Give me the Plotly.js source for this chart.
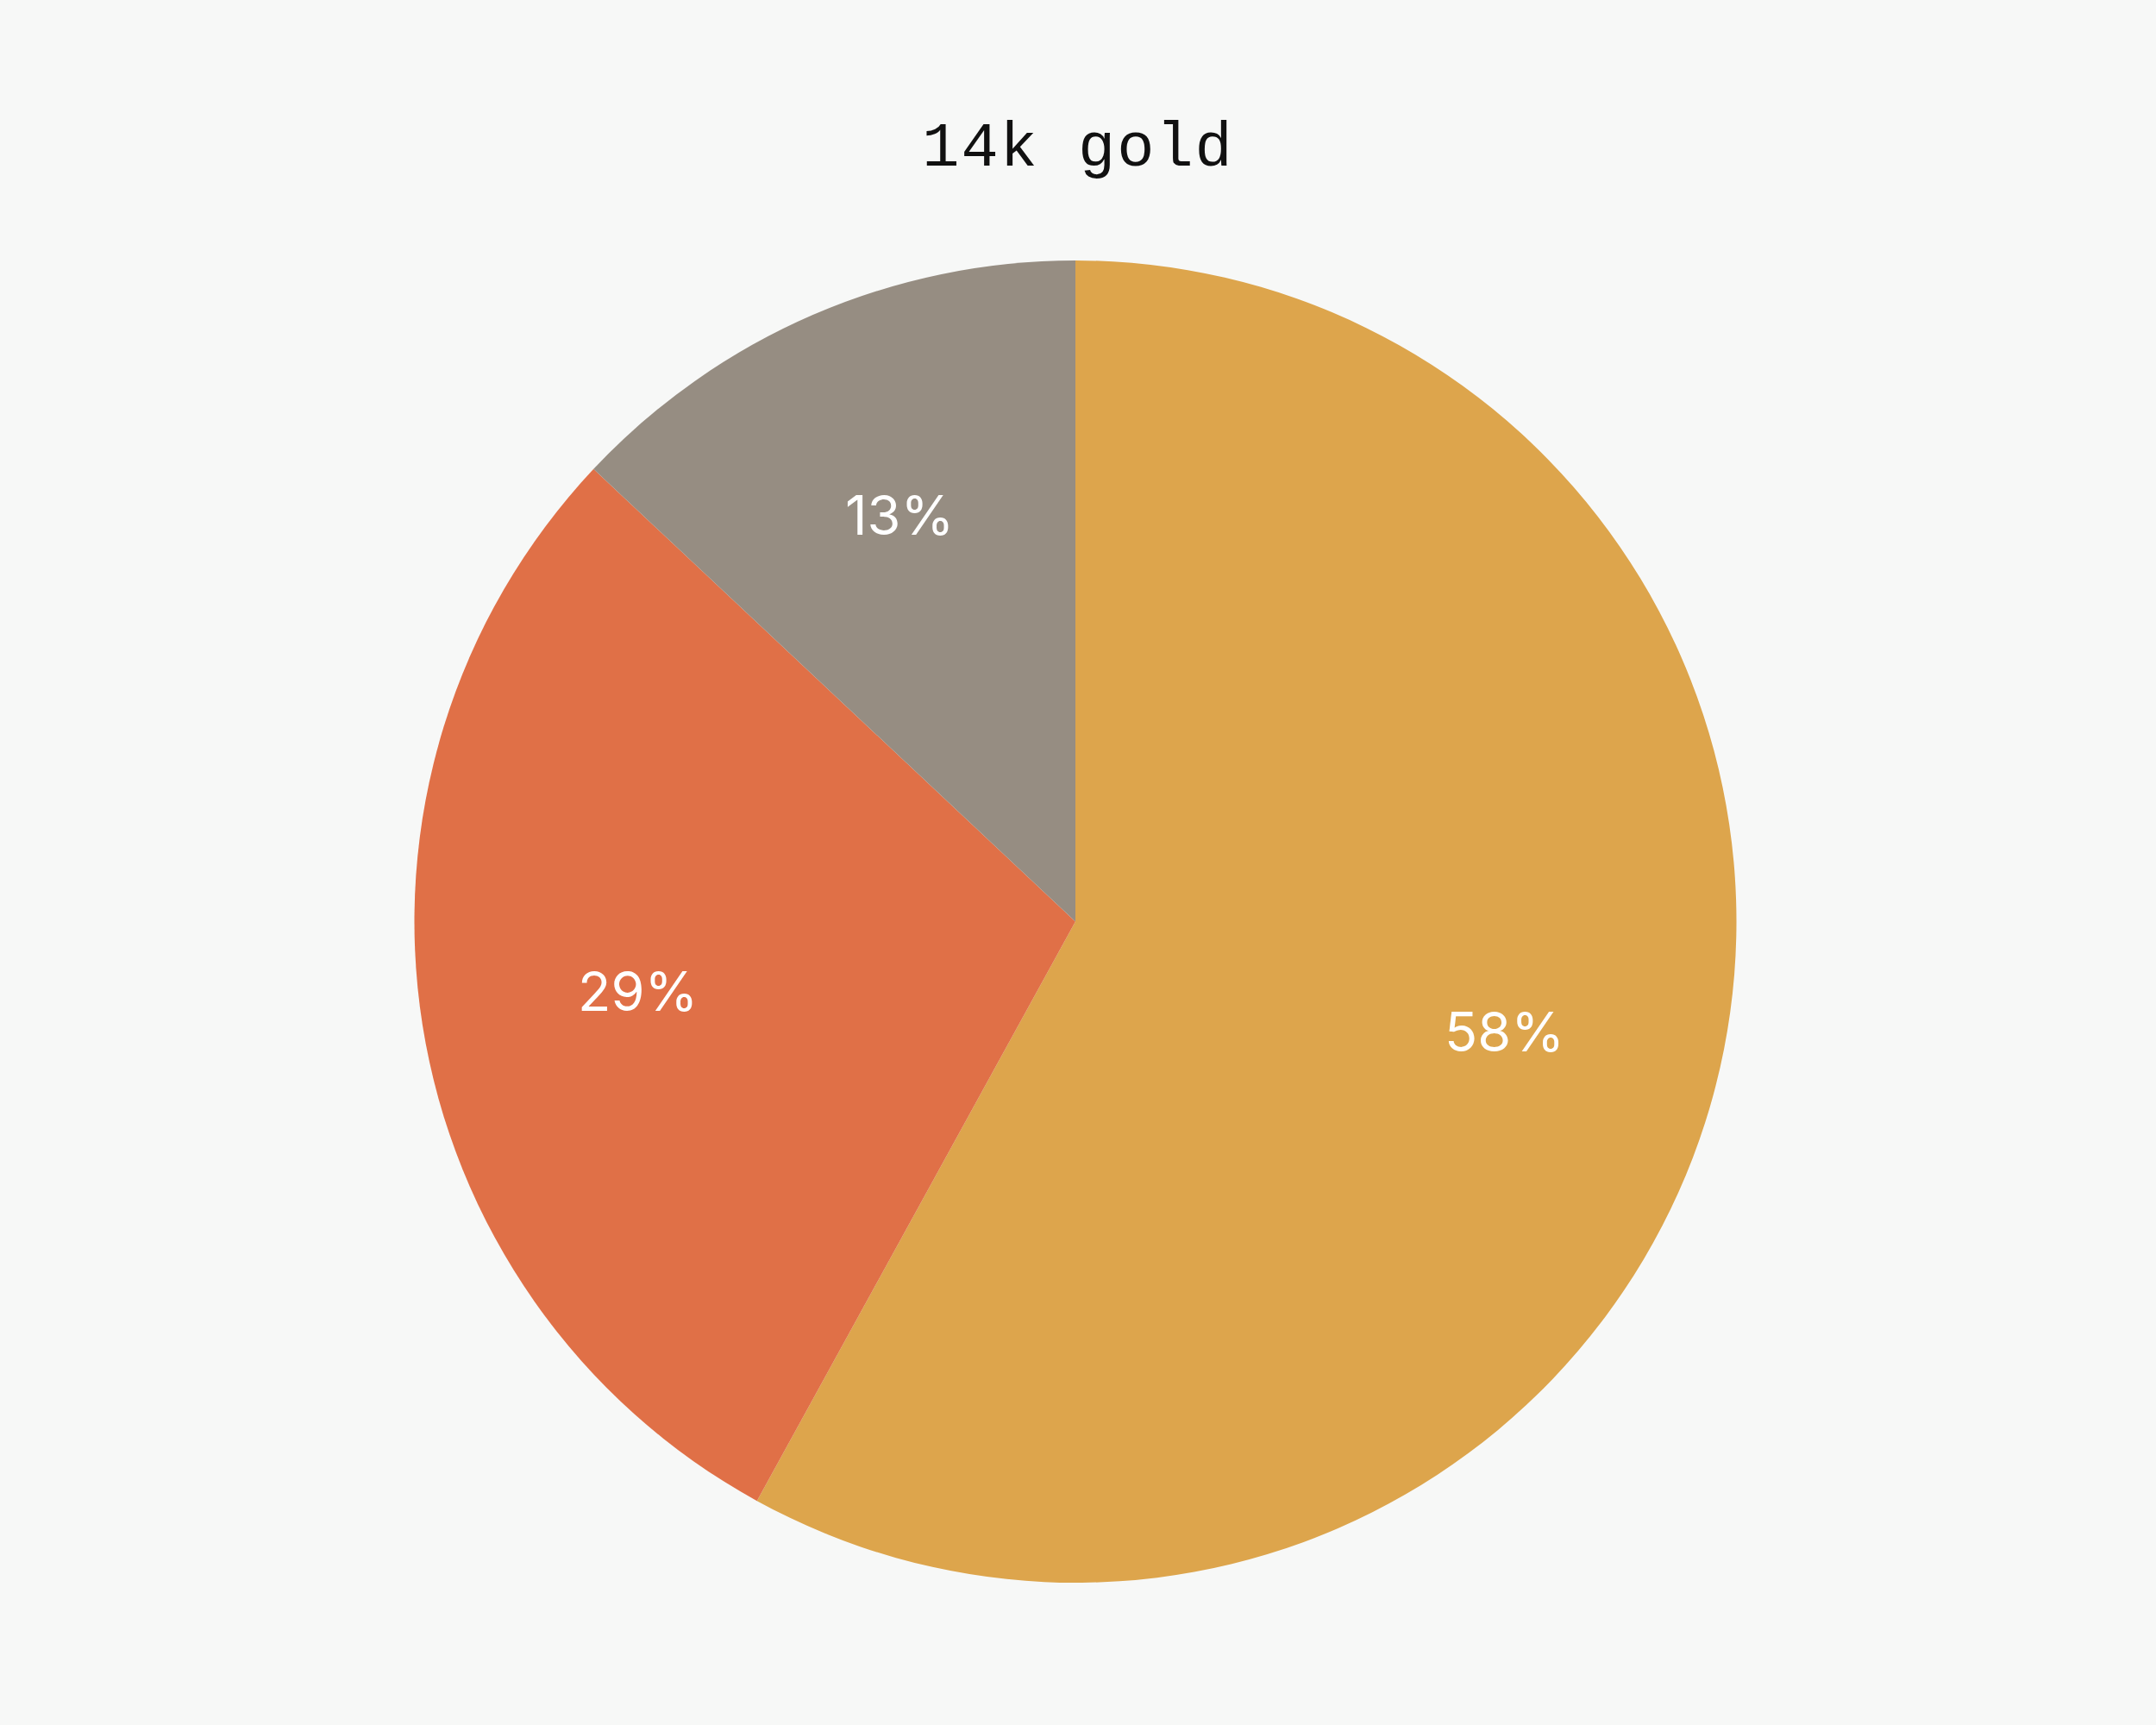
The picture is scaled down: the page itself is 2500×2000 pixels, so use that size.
<!DOCTYPE html>
<html>
<head>
<meta charset="utf-8">
<script src="https://cdn.plot.ly/plotly-3.0.1.min.js"></script>
<style>
  body { margin: 0; background: #f7f8f7; }
  #chart { width: 2500px; height: 2000px; }
  .gtitle { letter-spacing: 2px; }
</style>
</head>
<body>
<div id="chart"></div>
<script>
const metals = ["Gold", "Copper", "Silver"];
const shares = [58, 29, 13];
const colors = ["#dda54c", "#e07047", "#968d82"];

const W = 2500, H = 2000;
const margin = { l: 0, r: 6, t: 302, b: 165 };
const plotW = W - margin.l - margin.r;
const plotH = H - margin.t - margin.b;
const R = Math.min(plotW, plotH) / 2;
const labelDist = 0.67; // percent labels sit on a fixed ring, like the original

// percent labels placed at each slice's middle angle (clockwise from 12 o'clock)
const total = shares.reduce((a, b) => a + b, 0);
let cum = 0;
const labels = shares.map(v => {
  const mid = (cum + v / 2) / total * 2 * Math.PI;
  cum += v;
  return {
    x: 0.5 + labelDist * R * Math.sin(mid) / plotW,
    y: 0.5 + labelDist * R * Math.cos(mid) / plotH,
    xref: 'paper', yref: 'paper',
    text: Math.round(v / total * 100) + '%',
    showarrow: false,
    xanchor: 'center', yanchor: 'middle',
    font: { family: 'Inter, Roboto, Liberation Sans, sans-serif', size: 63, color: '#ffffff' }
  };
});

Plotly.newPlot('chart', [{
  type: 'pie',
  labels: metals,
  values: shares,
  sort: false,
  direction: 'clockwise',
  rotation: 0,
  marker: { colors: colors, line: { width: 0 } },
  textinfo: 'none',
  hoverinfo: 'label+percent'
}], {
  width: W,
  height: H,
  paper_bgcolor: '#f7f8f7',
  plot_bgcolor: '#f7f8f7',
  showlegend: false,
  margin: margin,
  annotations: labels,
  title: {
    text: '14k gold',
    x: 0.5,
    xanchor: 'center',
    y: 1 - 167 / H,
    yanchor: 'middle',
    font: { family: 'Liberation Mono, DejaVu Sans Mono, monospace', size: 72, color: '#111111' }
  }
}, { displayModeBar: false });
</script>
</body>
</html>
